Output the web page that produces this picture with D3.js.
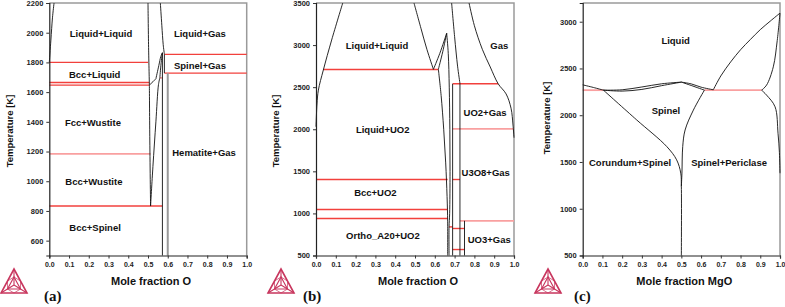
<!DOCTYPE html>
<html><head><meta charset="utf-8">
<script src="https://cdn.jsdelivr.net/npm/d3@7"></script>
<style>
body{margin:0;background:#fff;}
svg{display:block;font-family:"Liberation Sans",Arial,sans-serif;}
</style></head>
<body><svg id="c" width="785" height="307"></svg>
<script>
// ---------- Panel (a): Fe-O ----------
const aTicksT = [600,800,1000,1200,1400,1600,1800,2000,2200];
const aBlack = [
  [[0,1800],[0.008,1950],[0.016,2100],[0.024,2200]],
  [[0.5,2200],[0.503,1900],[0.507,1647]],
  [[0.507,1647],[0.509,1300],[0.513,833]],
  [[0.513,833],[0.525,1100],[0.54,1400],[0.553,1650],[0.56,1696]],
  [[0.507,1647],[0.525,1670],[0.54,1690]],
  [[0.54,1690],[0.555,1780],[0.565,1840],[0.573,1865]],
  [[0.56,1696],[0.566,1790],[0.573,1865]],
  [[0.573,1865],[0.573,500]],
  [[0.5625,2200],[0.57,2050],[0.577,1920],[0.583,1854]],
  [[0.583,1854],[0.583,1728]]
];
const aGrey = [ [[0.6,1728],[0.6,500]] ];
const aRed = [ [1800,0,0.5],[1665,0,0.507],[1647,0,0.507],[833,0,0.573],[1854,0.583,1],[1728,0.583,1] ];
const aPink = [ [1184,0,0.513],[1696,0.56,0.573] ];
const aLabels = [
  ["Liquid+Liquid",0.262,1998],["Liquid+Gas",0.763,1998],["Bcc+Liquid",0.23,1716],
  ["Spinel+Gas",0.763,1777],["Fcc+Wustite",0.221,1397],["Hematite+Gas",0.784,1195],
  ["Bcc+Wustite",0.226,995],["Bcc+Spinel",0.232,691]
];

// ---------- Panel (b): U-O ----------
const bTicksT = [500,1000,1500,2000,2500,3000,3500];
const bBlack = [
  [[0,2030],[0.005,2300],[0.012,2465],[0.037,2703],[0.079,3060],[0.135,3500]],
  [[0.495,3500],[0.53,3200],[0.56,2950],[0.593,2712]],
  [[0.593,2712],[0.625,2900],[0.66,3140]],
  [[0.618,2712],[0.64,2920],[0.66,3140]],
  [[0.618,2712],[0.632,2400],[0.645,2000],[0.655,1600],[0.662,1200],[0.665,900],[0.665,500]],
  [[0.66,3140],[0.668,2900],[0.673,2500],[0.676,2000],[0.677,1500],[0.675,1000],[0.672,840],[0.672,500]],
  [[0.685,3500],[0.7,3100],[0.715,2750],[0.727,2545]],
  [[0.69,2540],[0.69,500]],
  [[0.727,2545],[0.727,500]],
  [[0.75,912],[0.75,500]],
  [[0.773,3500],[0.8,3230],[0.84,2950],[0.88,2740],[0.92,2540],[0.96,2420],[0.985,2250],[0.995,2050],[1.0,1900]]
];
const bGrey = [];
const bRed = [ [2710,0.037,0.618],[2540,0.69,0.92],[1403,0,0.665],[1403,0.69,0.727],[1047,0,0.665],[940,0,0.665],[840,0.672,0.69],[821,0.69,0.75],[571,0.69,0.75] ];
const bPink = [ [2005,0.69,1],[912,0.727,1] ];
const bLabels = [
  ["Liquid+Liquid",0.308,2997],["Gas",0.926,2997],["Liquid+UO2",0.337,1993],
  ["UO2+Gas",0.854,2196],["U3O8+Gas",0.857,1487],["Bcc+UO2",0.30,1244],
  ["Ortho_A20+UO2",0.338,741],["UO3+Gas",0.875,690]
];

// ---------- Panel (c): Al2O3-MgO ----------
const cTicksT = [500,1000,1500,2000,2500,3000];
const cBlack = [
  [[0,2325],[0.054,2297],[0.105,2268]],
  [[0.105,2268],[0.2,2272],[0.3,2302],[0.4,2336],[0.5,2354]],
  [[0.105,2268],[0.2,2258],[0.3,2276],[0.4,2316],[0.5,2354]],
  [[0.5,2354],[0.55,2335],[0.6,2300],[0.662,2272]],
  [[0.5,2354],[0.55,2318],[0.617,2268]],
  [[0.662,2272],[0.7,2420],[0.75,2570],[0.8,2700],[0.85,2810],[0.9,2915],[0.95,3005],[1.0,3092]],
  [[0.907,2268],[0.932,2322],[0.966,2517],[0.986,2800],[1.0,3092]],
  [[0.907,2268],[0.932,2215],[0.975,2090],[0.99,1807],[0.997,1600],[1.0,1380]],
  [[0.105,2268],[0.274,1949],[0.426,1665],[0.476,1523],[0.497,1381],[0.5,1239],[0.5,500]],
  [[0.617,2268],[0.561,2055],[0.519,1842],[0.507,1665],[0.503,1381],[0.5,1239]]
];
const cGrey = [];
const cRed = [];
const cPink = [ [2268,0,0.105],[2268,0.617,0.907] ];
const cLabels = [
  ["Liquid",0.471,2794],["Spinel",0.422,2047],
  ["Corundum+Spinel",0.24,1496],["Spinel+Periclase",0.742,1496]
];

const xTicks = [0,0.1,0.2,0.3,0.4,0.5,0.6,0.7,0.8,0.9,1.0];

const panels = [
  {left:49.3, w:197.4, dom:[500,2200], tT:aTicksT, black:aBlack, grey:aGrey, red:aRed, pink:aPink, labels:aLabels,
   xt:"Mole fraction O", tag:"(a)", tagX:44, ytX:9, ytY:131, logoX:0},
  {left:316, w:198, dom:[500,3500], tT:bTicksT, black:bBlack, grey:bGrey, red:bRed, pink:bPink, labels:bLabels,
   xt:"Mole fraction O", tag:"(b)", tagX:303, ytX:275, ytY:131, logoX:267},
  {left:582.7, w:197.3, dom:[500,3200], tT:cTicksT, black:cBlack, grey:cGrey, red:cRed, pink:cPink, labels:cLabels,
   xt:"Mole fraction MgO", tag:"(c)", tagX:574, ytX:546, ytY:118, logoX:534}
];

const svg = d3.select("#c");
const plotTop = 3, plotBottom = 255.5;
const RED = "#f2403c", PINK = "#f9a0a0";

panels.forEach(p => {
  const x = d3.scaleLinear().domain([0,1]).range([p.left, p.left + p.w]);
  const y = d3.scaleLinear().domain(p.dom).range([plotBottom, plotTop]);
  const g = svg.append("g");
  const line = d3.line().x(d => x(d[0])).y(d => y(d[1])).curve(d3.curveCatmullRom.alpha(0.5));

  g.append("path").attr("d", `M${x(0)},${y(p.dom[1])}H${x(1)}V${y(p.dom[0])}`)
    .attr("fill","none").attr("stroke","#9a9a9a").attr("stroke-width",1.5);

  p.red.forEach(r => g.append("line").attr("x1",x(r[1])).attr("x2",x(r[2])).attr("y1",y(r[0])).attr("y2",y(r[0]))
    .attr("stroke",RED).attr("stroke-width",1.4));
  p.pink.forEach(r => g.append("line").attr("x1",x(r[1])).attr("x2",x(r[2])).attr("y1",y(r[0])).attr("y2",y(r[0]))
    .attr("stroke",PINK).attr("stroke-width",1.8));
  p.grey.forEach(l => g.append("path").attr("d",line(l)).attr("fill","none").attr("stroke","#999").attr("stroke-width",2));
  p.black.forEach(l => g.append("path").attr("d",line(l)).attr("fill","none").attr("stroke","#111").attr("stroke-width",0.9));

  const ya = d3.axisLeft(y).tickValues(p.tT).tickSize(3).tickPadding(3).tickFormat(d3.format("d"));
  const yg = g.append("g").attr("transform",`translate(${x(0)},0)`).call(ya);
  const xa = d3.axisBottom(x).tickValues(xTicks).tickSize(3).tickPadding(4).tickFormat(d3.format(".1f"));
  const xg = g.append("g").attr("transform",`translate(0,${plotBottom})`).call(xa);
  [yg,xg].forEach(a => {
    a.select(".domain").attr("stroke","#222").attr("stroke-width",1.2);
    a.selectAll(".tick line").attr("stroke","#333");
    a.selectAll("text").attr("font-family","Liberation Sans, Arial").attr("font-weight","bold").attr("fill","#222");
  });
  yg.selectAll("text").attr("font-size",7.5);
  xg.selectAll("text").attr("font-size",7);

  p.labels.forEach(l => g.append("text").attr("x",x(l[1])).attr("y",y(l[2])).attr("text-anchor","middle")
    .attr("dominant-baseline","central").attr("font-size",9.5).attr("font-weight","bold").attr("fill","#111").text(l[0]));

  g.append("text").attr("x", x(0.5)+3).attr("y",285).attr("text-anchor","middle").attr("font-size",11)
    .attr("font-weight","bold").attr("fill","#111").text(p.xt);
  g.append("text").attr("transform",`translate(${p.ytX},${p.ytY}) rotate(-90)`).attr("text-anchor","middle")
    .attr("dominant-baseline","central").attr("font-size",9.5).attr("font-weight","bold").attr("fill","#111").text("Temperature [K]");
  g.append("text").attr("x",p.tagX).attr("y",301).attr("font-family","Liberation Serif, Times New Roman, serif")
    .attr("font-size",15).attr("font-weight","bold").attr("fill","#111").text(p.tag);

  const lx = p.logoX, ly = 293, s = 26, h = 24;
  const A = [lx+1, ly], B = [lx+1+s, ly], C = [lx+1+s/2, ly-h];
  const cen = [(A[0]+B[0]+C[0])/3, (A[1]+B[1]+C[1])/3];
  const mid = (P,Q) => [(P[0]+Q[0])/2,(P[1]+Q[1])/2];
  const lg = g.append("g").attr("fill","none").attr("stroke","#c8365e").attr("stroke-width",1.1);
  lg.append("path").attr("d",`M${A}L${B}L${C}Z`).attr("stroke-width",1.6);
  const mAB = mid(A,B), mBC = mid(B,C), mCA = mid(C,A);
  lg.append("path").attr("d",`M${A}L${cen}M${B}L${cen}M${C}L${cen}`);
  lg.append("path").attr("d",`M${mid(A,cen)}L${mid(B,cen)}L${mid(C,cen)}Z`);
  lg.append("path").attr("d",`M${mAB}L${mid(A,cen)}M${mAB}L${mid(B,cen)}M${mBC}L${mid(B,cen)}M${mBC}L${mid(C,cen)}M${mCA}L${mid(C,cen)}M${mCA}L${mid(A,cen)}`).attr("stroke-width",0.7);
});
</script></body></html>
